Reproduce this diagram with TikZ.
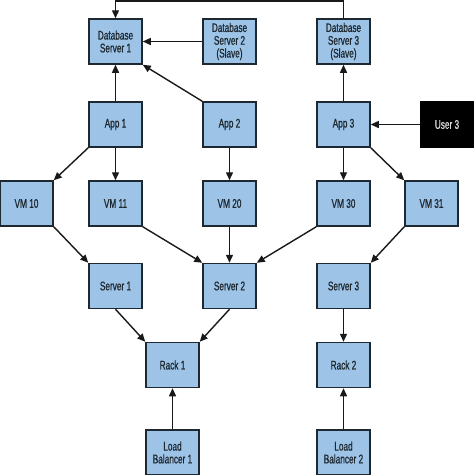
\documentclass[tikz,border=0pt]{standalone}
\usepackage{fontspec}
\setmainfont{Liberation Sans}[FakeStretch=0.66,FakeBold=0.8]
\usepackage{xcolor}
\usepackage{tikz}
\usetikzlibrary{arrows.meta,positioning}
\definecolor{boxblue}{HTML}{9DC3E6}
\definecolor{boxline}{HTML}{1E2830}

\begin{document}
\begin{tikzpicture}[x=1pt,y=-1pt,
  box/.style={draw=boxline,fill=boxblue,line width=1.5pt,minimum width=53pt,minimum height=45pt,inner sep=1pt,align=center,text=boxline,font=\fontsize{12.5}{12.8}\selectfont},
  user/.style={box,fill=black,draw=black,text=white!85!black},
  link/.style={-{Triangle[length=8pt,width=7pt]},line width=1.4pt,draw=black!90}]
\useasboundingbox (0,0) rectangle (474,475);
% databases
\node[box] (db1) at (115.5,41.5) {Database\\Server 1};
\node[box] (db2) at (229.5,41.5) {Database\\Server 2\\(Slave)};
\node[box] (db3) at (343.5,41.5) {Database\\Server 3\\(Slave)};
% apps
\node[box] (app1) at (115.5,124.5) {App 1};
\node[box] (app2) at (229.5,124.5) {App 2};
\node[box] (app3) at (343.5,124.5) {App 3};
\node[user] (user3) at (447,124.5) {User 3};
% vms
\node[box] (vm10) at (26.5,203.5) {VM 10};
\node[box] (vm11) at (115.5,203.5) {VM 11};
\node[box] (vm20) at (229.5,203.5) {VM 20};
\node[box] (vm30) at (343.5,203.5) {VM 30};
\node[box] (vm31) at (431.5,203.5) {VM 31};
% servers
\node[box] (srv1) at (115.5,286) {Server 1};
\node[box] (srv2) at (229.5,286) {Server 2};
\node[box] (srv3) at (343.5,286) {Server 3};
% racks and balancers
\node[box] (rack1) at (172.5,365) {Rack 1};
\node[box] (rack2) at (343.5,365) {Rack 2};
\node[box] (lb1) at (172.5,452.5) {Load\\Balancer 1};
\node[box] (lb2) at (343.5,452.5) {Load\\Balancer 2};
\coordinate (top) at (0,0.9);
% links
\draw[link] (db3.north) -- (db3.north |- top) -| (db1.north);
\draw[link] (db2) -- (db1);
\draw[link] (app1) -- (db1);
\draw[link] (app2.north west) -- (db1.south east);
\draw[link] (app3) -- (db3);
\draw[link] (user3) -- (app3);
\draw[link] (app1.south west) -- (vm10.north east);
\draw[link] (app1) -- (vm11);
\draw[link] (app2) -- (vm20);
\draw[link] (app3) -- (vm30);
\draw[link] (app3.south east) -- (vm31.north west);
\draw[link] (vm10.south east) -- (srv1.north west);
\draw[link] (vm11.south east) -- (srv2.north west);
\draw[link] (vm20) -- (srv2);
\draw[link] (vm30.south west) -- (srv2.north east);
\draw[link] (vm31.south west) -- (srv3.north east);
\draw[link] (srv1.south) -- (rack1.north west);
\draw[link] (srv2.south) -- (rack1.north east);
\draw[link] (srv3) -- (rack2);
\draw[link] (lb1) -- (rack1);
\draw[link] (lb2) -- (rack2);
\end{tikzpicture}
\end{document}
